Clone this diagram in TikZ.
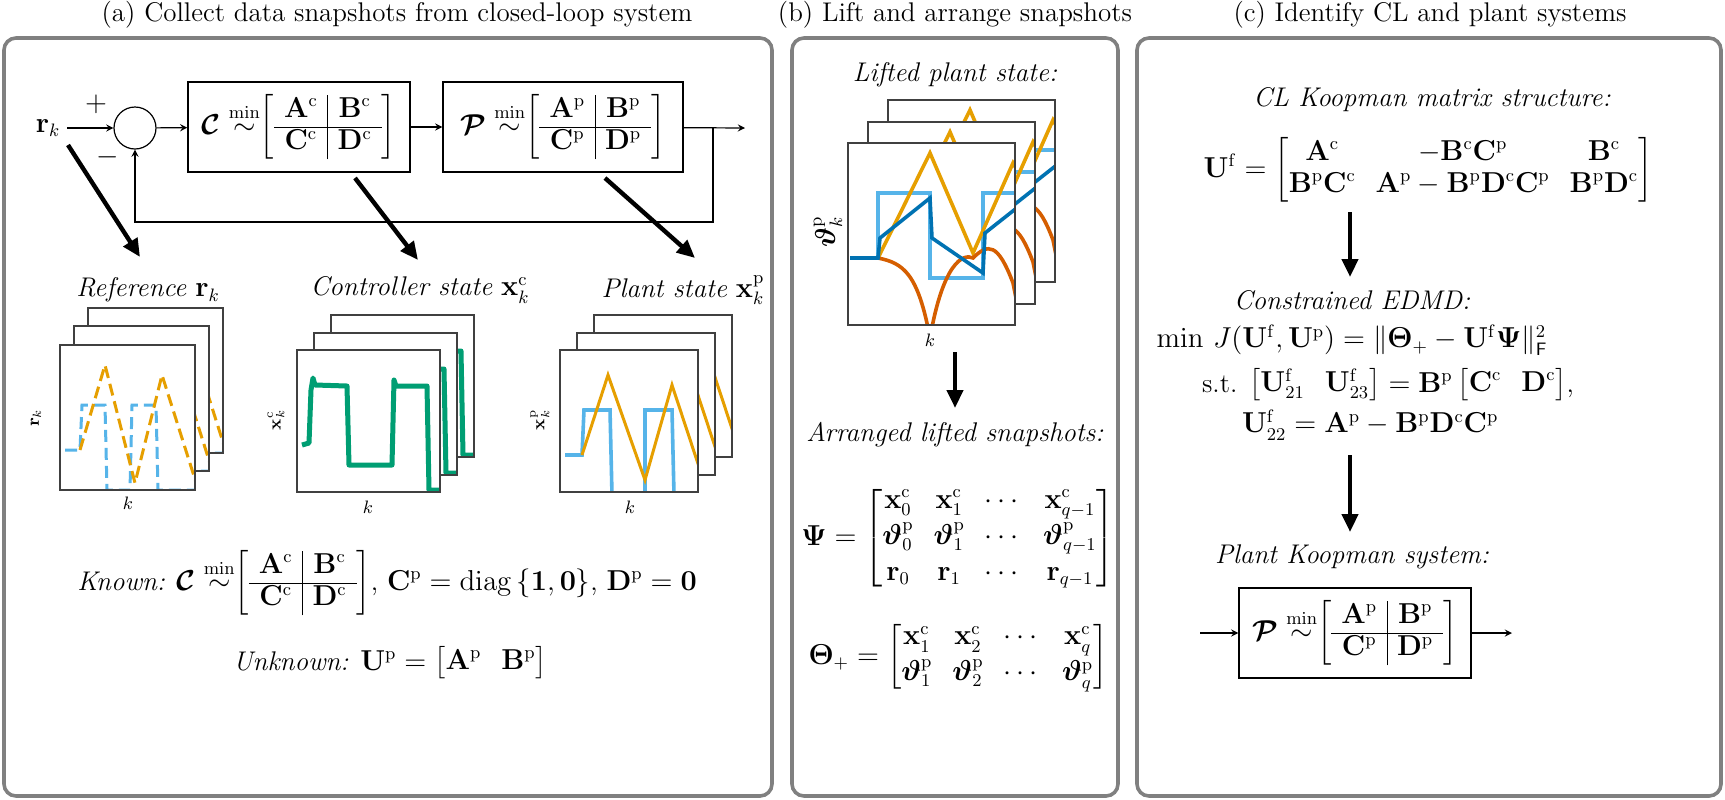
\documentclass[tikz,border=0pt]{standalone}
\usepackage{amsmath,amssymb,bm}
\usetikzlibrary{arrows.meta}
\definecolor{c1}{HTML}{E69F00}
\definecolor{c2}{HTML}{56B4E9}
\definecolor{c3}{HTML}{009E73}
\definecolor{c4}{HTML}{0072B2}
\definecolor{c5}{HTML}{D55E00}
\definecolor{panel}{HTML}{808080}
\newcommand\ssb[4]{\left[\begin{array}{c|c}\mathbf{#1}^{\mathrm{#4}} & \mathbf{#2}^{\mathrm{#4}}\\\hline \mathbf{#3}^{\mathrm{#4}} & \mathbf{D}^{\mathrm{#4}}\end{array}\right]}
\newcommand\mysys[1]{$\boldsymbol{\mathcal{#1}}\overset{\min}{\sim}$}
\newcommand\pfr[5]{% x y w h content
\begin{scope}[shift={(#1,#2)}]
\fill[white] (0,0) rectangle (#3,#4);
\begin{scope}\clip (0,0) rectangle (#3,#4); #5 \end{scope}
\draw[black!75, line width=0.6pt] (0,0) rectangle (#3,#4);
\end{scope}}
\newcommand\refc{%
\draw[c2,dashed,line width=1.5pt,dash pattern=on 6pt off 3pt] (5,105)--(20,105)--(22,60)--(45,60)--(47,145)--(70,145)--(72,60)--(96,60)--(98,145)--(140,145);
\draw[c1,dashed,line width=1.5pt,dash pattern=on 6pt off 3pt] (20,105)--(45,20)--(75,138)--(102,30)--(140,150);}
\newcommand\conc{%
\draw[c3,line width=2.5pt,line join=round] (5,95)--(12,93)--(14,40)--(16,28)--(18,35)--(50,36)--(52,115)--(95,115)--(97,30)--(99,36)--(130,36)--(132,140)--(150,140);}
\newcommand\plac{%
\draw[c2,line width=1.8pt] (5,105)--(22,105)--(24,60)--(50,60)--(52,145)--(60,145);
\draw[c2,line width=1.8pt] (85,145)--(85,60)--(112,60)--(114,145)--(150,145);
\draw[c1,line width=1.5pt] (22,105)--(48,25)--(85,130)--(112,35)--(150,150);}
\newcommand\lifc{%
\draw[c2,line width=1.8pt] (2,115)--(30,115)--(30,50)--(82,50)--(82,135)--(135,135)--(135,50)--(182,50);
\draw[c1,line width=1.8pt] (30,115)--(82,10)--(125,110)--(165,20)--(182,50);
\draw[c5,line width=1.8pt] (30,115) .. controls (55,120) and (70,130) .. (82,195) .. controls (95,120) and (115,110) .. (125,115) .. controls (140,100) and (150,100) .. (165,140) -- (175,190);
\draw[c4,line width=1.8pt] (2,115)--(30,115)--(32,95)--(82,55)--(84,95)--(135,130)--(137,90)--(175,60)--(177,90)--(190,100);}
\begin{document}
\begin{tikzpicture}[x=0.5pt,y=-0.5pt,
 every node/.style={font=\fontsize{13.5}{16}\selectfont},
 pnl/.style={draw=panel,line width=1.8pt,rounded corners=6pt},
 blk/.style={draw,line width=0.7pt,minimum height=45pt,inner sep=3pt},
 sig/.style={-stealth,line width=0.6pt},
 big/.style={line width=2.2pt,-{Triangle[length=9pt,width=8pt]}},
 ttl/.style={anchor=center}]
\useasboundingbox (0,0) rectangle (1725,799);
% panels
\draw[pnl] (4,38) rectangle (772,796);
\draw[pnl] (792,38) rectangle (1118,796);
\draw[pnl] (1137,38) rectangle (1721,796);
\node[ttl] (ta) at (397,15) {(a) Collect data snapshots from closed-loop system};
\node[ttl] (tb) at (955,15) {(b) Lift and arrange snapshots};
\node[ttl] (tc) at (1430,15) {(c) Identify CL and plant systems};
% block diagram
\node (r) at (48,128) {$\mathbf{r}_k$};
\node[circle,draw,line width=0.6pt,minimum size=21pt,inner sep=0pt] (s) at (135,128) {};
\node (plus) at (96,104) {$+$};
\node (minus) at (108,157) {$-$};
\node[blk,minimum width=111pt] (C) at (299,127) {\mysys{C}$\ssb{A}{B}{C}{c}$};
\node[blk,minimum width=120pt] (P) at (563,127) {\mysys{P}$\ssb{A}{B}{C}{p}$};
\coordinate (out) at (745,128);
\coordinate (fb) at (713,128);
\coordinate (fbc) at (135,222);
\draw[sig] (r) -- (s);
\draw[sig] (s) -- (C);
\draw[sig] (C) -- (P);
\draw[sig] (P) -- (out);
\draw[sig] (fb) |- (fbc) -- (s);
% thick arrows
\coordinate (a1s) at (68,145); \coordinate (a1e) at (140,257);
\coordinate (a2s) at (355,178); \coordinate (a2e) at (418,260);
\coordinate (a3s) at (605,178); \coordinate (a3e) at (695,258);
\draw[big] (a1s) -- (a1e);
\draw[big] (a2s) -- (a2e);
\draw[big] (a3s) -- (a3e);
\node (lr) at (148,290) {\textit{Reference} $\mathbf{r}_k$};
\node (lc) at (420,290) {\textit{Controller state} $\mathbf{x}^{\mathrm{c}}_k$};
\node (lp) at (683,290) {\textit{Plant state} $\mathbf{x}^{\mathrm{p}}_k$};
% reference stack
\pfr{88}{308}{135}{145}{\refc}
\pfr{74}{326}{135}{145}{\refc}
\pfr{60}{345}{135}{145}{\refc}
\node[rotate=90,font=\fontsize{9}{10}\selectfont] (yr) at (36,418) {$\mathbf{r}_k$};
\node[font=\fontsize{9}{10}\selectfont] (kr) at (128,503) {$k$};
% controller stack
\pfr{331}{315}{143}{142}{\conc}
\pfr{314}{333}{143}{142}{\conc}
\pfr{297}{350}{143}{142}{\conc}
\node[rotate=90,font=\fontsize{9}{10}\selectfont] (yc) at (276,420) {$\mathbf{x}^{\mathrm{c}}_k$};
\node[font=\fontsize{9}{10}\selectfont] (kc) at (368,507) {$k$};
% plant stack
\pfr{594}{315}{138}{142}{\plac}
\pfr{577}{333}{138}{142}{\plac}
\pfr{560}{350}{138}{142}{\plac}
\node[rotate=90,font=\fontsize{9}{10}\selectfont] (yp) at (540,420) {$\mathbf{x}^{\mathrm{p}}_k$};
\node[font=\fontsize{9}{10}\selectfont] (kp) at (630,507) {$k$};
% known / unknown
\node (known) at (387,583) {\textit{Known:} \mysys{C}$\ssb{A}{B}{C}{c}$, $\mathbf{C}^{\mathrm{p}}=\mathrm{diag}\left\{\mathbf{1},\mathbf{0}\right\}$, $\mathbf{D}^{\mathrm{p}}=\mathbf{0}$};
\node (unknown) at (390,663) {\textit{Unknown:} $\mathbf{U}^{\mathrm{p}}=\begin{bmatrix}\mathbf{A}^{\mathrm{p}} & \mathbf{B}^{\mathrm{p}}\end{bmatrix}$};
% panel b
\node (ll) at (955,75) {\textit{Lifted plant state:}};
\pfr{888}{100}{167}{182}{\lifc}
\pfr{868}{122}{167}{182}{\lifc}
\pfr{848}{143}{167}{182}{\lifc}
\node[rotate=90] (yl) at (828,232) {$\boldsymbol{\vartheta}^{\mathrm{p}}_k$};
\node[font=\fontsize{9}{10}\selectfont] (kl) at (930,340) {$k$};
\coordinate (b1s) at (955,352); \coordinate (b1e) at (955,408);
\draw[big] (b1s) -- (b1e);
\node (arr) at (955,435) {\textit{Arranged lifted snapshots:}};
\node (psi) at (958,538) {$\boldsymbol{\Psi}=\begin{bmatrix}\mathbf{x}^{\mathrm{c}}_0 & \mathbf{x}^{\mathrm{c}}_1 & \cdots & \mathbf{x}^{\mathrm{c}}_{q-1}\\[2pt] \boldsymbol{\vartheta}^{\mathrm{p}}_0 & \boldsymbol{\vartheta}^{\mathrm{p}}_1 & \cdots & \boldsymbol{\vartheta}^{\mathrm{p}}_{q-1}\\[2pt] \mathbf{r}_0 & \mathbf{r}_1 & \cdots & \mathbf{r}_{q-1}\end{bmatrix}$};
\node (theta) at (958,657) {$\boldsymbol{\Theta}_+=\begin{bmatrix}\mathbf{x}^{\mathrm{c}}_1 & \mathbf{x}^{\mathrm{c}}_2 & \cdots & \mathbf{x}^{\mathrm{c}}_{q}\\[2pt] \boldsymbol{\vartheta}^{\mathrm{p}}_1 & \boldsymbol{\vartheta}^{\mathrm{p}}_2 & \cdots & \boldsymbol{\vartheta}^{\mathrm{p}}_{q}\end{bmatrix}$};
% panel c
\node (clk) at (1432,100) {\textit{CL Koopman matrix structure:}};
\node (uf) at (1428,170) {$\mathbf{U}^{\mathrm{f}}=\begin{bmatrix}\mathbf{A}^{\mathrm{c}} & -\mathbf{B}^{\mathrm{c}}\mathbf{C}^{\mathrm{p}} & \mathbf{B}^{\mathrm{c}}\\ \mathbf{B}^{\mathrm{p}}\mathbf{C}^{\mathrm{c}} & \mathbf{A}^{\mathrm{p}}-\mathbf{B}^{\mathrm{p}}\mathbf{D}^{\mathrm{c}}\mathbf{C}^{\mathrm{p}} & \mathbf{B}^{\mathrm{p}}\mathbf{D}^{\mathrm{c}}\end{bmatrix}$};
\coordinate (c1s) at (1350,212); \coordinate (c1e) at (1350,277);
\draw[big] (c1s) -- (c1e);
\node (ced) at (1352,300) {\textit{Constrained EDMD:}};
\node (minj) at (1352,340) {$\min\,J(\mathbf{U}^{\mathrm{f}},\mathbf{U}^{\mathrm{p}})=\|\boldsymbol{\Theta}_+-\mathbf{U}^{\mathrm{f}}\boldsymbol{\Psi}\|^2_{\mathsf{F}}$};
\node[anchor=west] (st) at (1195,385) {s.t. $\begin{bmatrix}\mathbf{U}^{\mathrm{f}}_{21} & \mathbf{U}^{\mathrm{f}}_{23}\end{bmatrix}=\mathbf{B}^{\mathrm{p}}\begin{bmatrix}\mathbf{C}^{\mathrm{c}} & \mathbf{D}^{\mathrm{c}}\end{bmatrix}$,};
\node[anchor=west] (u22) at (1235,425) {$\mathbf{U}^{\mathrm{f}}_{22}=\mathbf{A}^{\mathrm{p}}-\mathbf{B}^{\mathrm{p}}\mathbf{D}^{\mathrm{c}}\mathbf{C}^{\mathrm{p}}$};
\coordinate (c2s) at (1350,455); \coordinate (c2e) at (1350,532);
\draw[big] (c2s) -- (c2e);
\node (pks) at (1352,557) {\textit{Plant Koopman system:}};
\node[blk,minimum width=116pt] (P2) at (1355,633) {\mysys{P}$\ssb{A}{B}{C}{p}$};
\coordinate (pin) at (1200,633); \coordinate (pout) at (1512,633);
\draw[sig] (pin) -- (P2);
\draw[sig] (P2) -- (pout);
\end{tikzpicture}
\end{document}
